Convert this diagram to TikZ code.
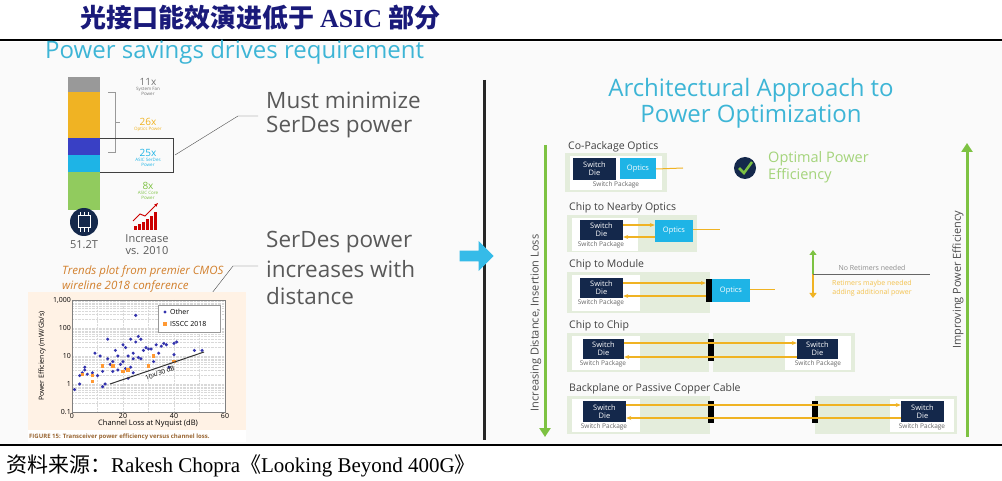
\documentclass[tikz,border=0pt]{standalone}
\usepackage{fontspec}
\setmainfont{Liberation Serif}
\setsansfont{Open Sans}
\newfontfamily\cjk{Noto Sans CJK SC}
\usetikzlibrary{arrows.meta,shapes.arrows}
\definecolor{teal}{HTML}{3DB5D6}
\definecolor{navy}{HTML}{14284B}
\definecolor{cyanbox}{HTML}{1EB4E6}
\definecolor{pkg}{HTML}{E4EDDC}
\definecolor{yel}{HTML}{F0B323}
\definecolor{grn}{HTML}{7DC242}
\definecolor{ttl}{HTML}{1A1A7A}
\tikzset{
 lbl/.style={font=\sffamily\fontsize{10.5}{11}\selectfont, text=black!75, anchor=west, inner sep=0},
 pkgbox/.style={fill=pkg, draw=none},
 die/.style={fill=navy, text=white, font=\sffamily\fontsize{7.5}{8}\selectfont, align=center, inner sep=0},
 opt/.style={fill=cyanbox, text=white, font=\sffamily\fontsize{7.5}{8}\selectfont, inner sep=0},
 sp/.style={font=\sffamily\fontsize{6.5}{6}\selectfont, text=black!60, inner sep=0},
 ya/.style={yel, line width=1.4pt, -{Stealth[length=5pt,width=4pt]}},
 bar/.style={fill=black},
 big/.style={font=\sffamily\fontsize{22.5}{24}\selectfont, text=black!65, anchor=west, inner sep=0},
 hd/.style={font=\sffamily\fontsize{24}{26}\selectfont, text=teal, inner sep=0},
 small/.style={font=\sffamily\fontsize{4.5}{5}\selectfont, inner sep=0, align=center},
 pf/.style={font=\sffamily\fontsize{7}{7}\selectfont, inner sep=1pt},
}
\begin{document}
\begin{tikzpicture}[x=1pt,y=-1pt]
\useasboundingbox (0,0) rectangle (1002,481);
\fill[white] (0,0) rectangle (1002,481);
\fill[black!2] (0,42) rectangle (1002,444);
% title
\node[anchor=west, text=ttl, inner sep=0] (title) at (80,18) {\cjk\bfseries\fontsize{26}{28}\selectfont 光接口能效演进低于 {\rmfamily\bfseries ASIC} 部分};
\draw[line width=1.5pt] (0,40) -- (1002,40);
\draw[line width=1.5pt] (0,445) -- (1002,445);
\node[anchor=west, inner sep=0] (src) at (6,466) {\fontsize{21}{22}\selectfont{\cjk 资料来源：}Rakesh Chopra{\cjk 《}Looking Beyond 400G{\cjk 》}};
% left panel
\node[hd, anchor=west] (lt) at (45,52) {Power savings drives requirement};
\fill[black!40] (68,77) rectangle (100,92);
\fill[yel] (68,92) rectangle (100,138);
\fill[blue!60!navy!80] (68,138) rectangle (100,155);
\fill[cyanbox] (68,155) rectangle (100,172);
\fill[grn!85] (68,172) rectangle (100,210);
\draw[black!40] (108,92) -- (115,92) -- (115,152) -- (108,152) (115,122) -- (120,122);
\node[small, text=black!55] (l1) at (148,87) {{\fontsize{10}{10}\selectfont 11x}\\System Fan\\Power};
\node[small, text=yel] (l2) at (148,125) {{\fontsize{10}{10}\selectfont 26x}\\Optics Power};
\node[small, text=cyanbox] (l3) at (148,158) {{\fontsize{10}{10}\selectfont 25x}\\ASIC SerDes\\Power};
\node[small, text=grn] (l4) at (148,191) {{\fontsize{10}{10}\selectfont 8x}\\ASIC Core\\Power};
\draw[black!75] (100,138) -- (173,138) -- (173,172) -- (100,172);
\coordinate (k1) at (238,116);
\draw[black!70] (175,155) -- (k1) -- (258,116);
\node[big] (m1) at (266,100) {Must minimize};
\node[big] (m2) at (266,127) {SerDes power};
\node[big] (s1) at (266,242) {SerDes power};
\node[big] (s2) at (266,269) {increases with};
\node[big] (s3) at (266,296) {distance};
\node[circle, fill=navy, minimum size=28pt, inner sep=0] (chip) at (84,222) {};
\draw[white, line width=1pt] (78,216) rectangle (90,228);
\foreach \i in {80,84,88}{\draw[white,line width=0.6pt] (\i,212)--(\i,216) (\i,228)--(\i,232) (74,\i-62)--(78,\i-62) (90,\i-62)--(94,\i-62);}
\node[font=\sffamily\fontsize{11}{11}\selectfont, text=black!65] (t512) at (84,245) {51.2T};
\foreach \i/\h in {0/4,1/6,2/8,3/11,4/14,5/18}{\fill[red!80!black] (134+\i*4,230-\h) rectangle (136.5+\i*4,230);}
\draw[red!80!black, line width=1pt, -{Stealth[length=4pt]}] (133,221) -- (140,214) -- (145,216) -- (158,203);
\node[font=\sffamily\fontsize{11}{12}\selectfont, text=black!65, align=center] (inc) at (147,245) {Increase\\vs. 2010};
% plot
\node[font=\sffamily\itshape\fontsize{11.5}{15}\selectfont, text=brown!70!orange, align=left, anchor=west, inner sep=0] (tr) at (62,279) {Trends plot from premier CMOS\\wireline 2018 conference};
\coordinate (k2) at (233,266);
\draw[black!70] (212,293) -- (k2) -- (258,266);
\fill[orange!10] (28,292) rectangle (246,430);
\fill[white] (28,430) rectangle (246,442);
\fill[white] (72,300) rectangle (225,412);
\foreach \d in {0,...,3}{\foreach \m in {1,...,9}{\draw[black!15, densely dotted] (72,{412-28*(\d+log10(\m))}) -- (225,{412-28*(\d+log10(\m))});}}
\foreach \x in {10,20,...,50}{\draw[black!15,densely dotted] ({72+2.55*\x},300) -- ({72+2.55*\x},412);}
\draw[black!50] (72,300) rectangle (225,412);
\foreach \v/\t in {0/0.1,1/1,2/10,3/100,4/{1,000}}{\node[pf, anchor=east] at (72,412-28*\v) {\t};}
\foreach \x in {0,20,40,60}{\node[pf, anchor=north] at ({72+2.55*\x},412) {\x};}
\node[font=\sffamily\fontsize{7.5}{8}\selectfont] (xl) at (148,424) {Channel Loss at Nyquist (dB)};
\node[font=\sffamily\fontsize{7}{8}\selectfont, rotate=90] (yl) at (42,356) {Power Efficiency (mW/Gb/s)};
\node[font=\sffamily\bfseries\fontsize{6}{6}\selectfont, text=brown!80!black, anchor=west, inner sep=0] (cap) at (29,437) {FIGURE 15: Transceiver power efficiency versus channel loss.};
\foreach \a/\b in {1/-0.2,3/0,3/0.3,4/0.4,5/0.5,5/0.6,6/0.35,8/0.4,9/1.1,10/0.3,11/1.0,12/0.45,12/-0.1,13/0,14/0.9,14/1.6,15/0.7,16/0.45,16/0.8,17/1.2,18/0.5,18/1.0,19/0.7,20/0.8,20/1.4,21/1.3,21/0.55,22/1.0,23/0.6,23/1.6,24/1.1,24/0.9,25/2.45,25/1.5,26/0.95,26/1.7,27/1.6,27/0.9,28/1.2,29/1.3,30/1.25,31/1.25,32/0.8,33/1.4,34/1.1,35/1.35,36/1.45,37/1.4,38/0.6,40/1.45,40/1.05,41/1.5,48/1.2,51/1.2,22/0.2,24/0.4}{\fill[blue!60!black!80] ({72+2.55*\a},{412-28*(\b+1)}) circle (1.7pt);}
\foreach \a/\b in {4/0.35,8/0.3,8/0.1,12/0.65,16/0.65,20/0.45,22/0.5,30/0.65,32/1.0,40/0.8}{\fill[orange!80] ({72+2.55*\a-1.7},{412-28*(\b+1)-1.7}) rectangle +(3.4,3.4);}
\draw[black!80, line width=1pt] (110,384) -- (204,352);
\node[font=\sffamily\fontsize{6.5}{6}\selectfont, rotate=20] at (160,373) {10x/30 dB};
\draw[black!40,fill=white] (158,305) rectangle (220,332);
\fill[blue!60!black!80] (165,312) circle (1.7pt); \node[pf, anchor=west] at (169,312) {Other};
\fill[orange!80] (163.3,322.3) rectangle +(3.4,3.4); \node[pf, anchor=west] at (169,324) {ISSCC 2018};
% divider and arrow
\draw[line width=3pt, black!85] (484,80) -- (484,440);
\node[single arrow, fill=cyanbox!90, minimum height=34pt, minimum width=30pt, single arrow head extend=4pt, inner sep=2pt] (ar) at (474,256) {};
% right panel
\node[hd, align=center] (rt) at (751,103) {Architectural Approach to\\Power Optimization};
\coordinate (la) at (545,145); \coordinate (lb) at (545,437);
\draw[grn, line width=3pt, -{Triangle[length=9pt,width=11pt]}] (la) -- (lb);
\node[font=\sffamily\fontsize{11}{12}\selectfont, text=black!70, rotate=90] (ll) at (536,323) {Increasing Distance, Insertion Loss};
\coordinate (ra) at (967,437); \coordinate (rb) at (967,143);
\draw[grn, line width=3pt, -{Triangle[length=9pt,width=11pt]}] (ra) -- (rb);
\node[font=\sffamily\fontsize{11}{12}\selectfont, text=black!70, rotate=90] (rl) at (958,280) {Improving Power Efficiency};
% row1
\node[lbl] (r1) at (568,147) {Co-Package Optics};
\fill[pkgbox] (565,153) rectangle (667,192);
\fill[white] (570,156) rectangle (662,190);
\node[die, minimum width=43pt, minimum height=22pt] (d1) at (594.5,169) {Switch\\Die};
\node[opt, minimum width=36pt, minimum height=21pt] (o1) at (638,169) {Optics};
\node[sp] at (616,185) {Switch Package};
\coordinate (e1) at (683,168);
\draw[yel, line width=1pt] (o1.east) -- (e1);
\node[circle, fill=navy, minimum size=22pt, inner sep=0] (chk) at (745,168) {};
\draw[grn, line width=2.5pt] (739,168) -- (744,173) -- (752,162);
\node[font=\sffamily\fontsize{14.5}{17}\selectfont, text=grn!70, align=left, anchor=west, inner sep=0] (ope) at (768,167) {Optimal Power\\Efficiency};
% row2
\node[lbl] (r2) at (569,208) {Chip to Nearby Optics};
\fill[pkgbox] (567,215) rectangle (697,252);
\fill[white] (572,218) rectangle (638,251);
\node[die, minimum width=43pt, minimum height=20pt] (d2) at (601.5,230) {Switch\\Die};
\node[opt, minimum width=38pt, minimum height=22pt] (o2) at (674,231) {Optics};
\node[sp] at (601,245) {Switch Package};
\draw[ya] (d2.east|-0,225) -- (o2.west|-0,225);
\draw[ya] (o2.west|-0,237) -- (d2.east|-0,237);
\coordinate (e2) at (720,230);
\draw[yel, line width=1pt] (o2.east|-e2) -- (e2);
% row3
\node[lbl] (r3) at (569,265) {Chip to Module};
\fill[pkgbox] (567,272) rectangle (710,313);
\fill[white] (572,275) rectangle (640,311);
\node[die, minimum width=43pt, minimum height=20pt] (d3) at (601.5,288) {Switch\\Die};
\node[sp] at (601,303) {Switch Package};
\node[bar, minimum width=6pt, minimum height=23pt, inner sep=0] (b3) at (709,290.5) {};
\node[opt, minimum width=38pt, minimum height=23pt] (o3) at (731,290.5) {Optics};
\draw[ya] (d3.east|-0,283) -- (b3.west|-0,283);
\draw[ya] (b3.west|-0,296) -- (d3.east|-0,296);
\coordinate (e3) at (775,290);
\draw[yel, line width=1pt] (o3.east|-e3) -- (e3);
% retimer legend
\coordinate (q0) at (813,274);
\coordinate (q1) at (813,250);
\coordinate (q2) at (813,298);
\draw[grn, line width=2pt, -{Triangle[length=5pt,width=7pt]}] (q0) -- (q1);
\draw[yel, line width=2pt, -{Triangle[length=5pt,width=7pt]}] (q0) -- (q2);
\coordinate (q3) at (930,274);
\draw[black!60, line width=0.8pt] (q0) -- (q3);
\node[font=\sffamily\fontsize{7}{7}\selectfont, text=black!45, inner sep=0] (nr) at (872,268) {No Retimers needed};
\node[font=\sffamily\fontsize{7}{9}\selectfont, text=yel!80, align=center, inner sep=0] (rm) at (872,288) {Retimers maybe needed\\adding additional power};
% row4
\node[lbl] (r4) at (569,326) {Chip to Chip};
\fill[pkgbox] (567,333) rectangle (709,372);
\fill[pkgbox] (713,333) rectangle (855,372);
\fill[white] (572,336) rectangle (640,370);
\fill[white] (785,336) rectangle (851,370);
\node[die, minimum width=41pt, minimum height=20pt] (d4) at (603.5,349) {Switch\\Die};
\node[die, minimum width=41pt, minimum height=20pt] (d5) at (817.5,349) {Switch\\Die};
\node[sp] at (603,364) {Switch Package};
\node[sp] at (818,364) {Switch Package};
\node[bar, minimum width=6pt, minimum height=22pt, inner sep=0] (b4) at (711,350) {};
\draw[ya] (d4.east|-0,343) -- (d5.west|-0,343);
\draw[ya] (d5.west|-0,357) -- (d4.east|-0,357);
% row5
\node[lbl] (r5) at (569,389) {Backplane or Passive Copper Cable};
\fill[pkgbox] (567,396) rectangle (710,434);
\fill[pkgbox] (815,396) rectangle (957,434);
\fill[white] (572,399) rectangle (640,432);
\fill[white] (890,399) rectangle (954,432);
\node[die, minimum width=43pt, minimum height=21pt] (d6) at (604.5,411.5) {Switch\\Die};
\node[die, minimum width=43pt, minimum height=21pt] (d7) at (922.5,411.5) {Switch\\Die};
\node[sp] at (604,427) {Switch Package};
\node[sp] at (922,427) {Switch Package};
\node[bar, minimum width=6pt, minimum height=22pt, inner sep=0] (b5) at (711,412) {};
\node[bar, minimum width=6pt, minimum height=22pt, inner sep=0] (b6) at (815,412) {};
\draw[ya] (d6.east|-0,405) -- (d7.west|-0,405);
\draw[ya] (d7.west|-0,418) -- (d6.east|-0,418);
\end{tikzpicture}
\end{document}
